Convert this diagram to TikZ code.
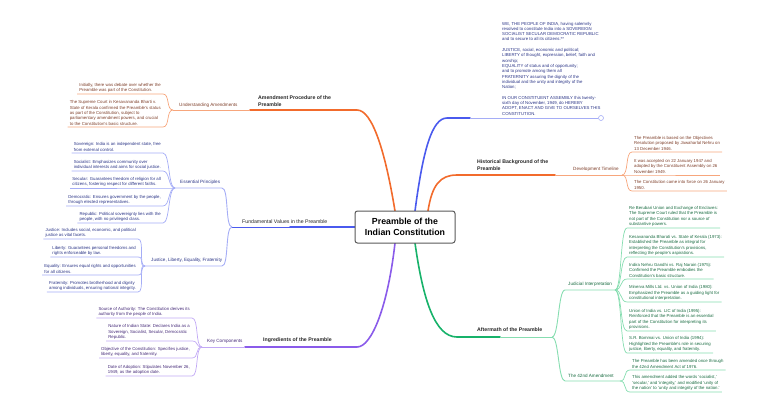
\documentclass[tikz,border=0pt]{standalone}
\usepackage{fontspec}
\setmainfont{Liberation Sans}
\usetikzlibrary{calc}

\definecolor{orA}{HTML}{F26B2C}
\definecolor{orL}{HTML}{F7A67C}
\definecolor{orT}{HTML}{7E3F2A}
\definecolor{blA}{HTML}{4A5AEE}
\definecolor{blL}{HTML}{A5ADF6}
\definecolor{blT}{HTML}{2A3486}
\definecolor{puA}{HTML}{8A5BEA}
\definecolor{puL}{HTML}{C2A9F5}
\definecolor{puT}{HTML}{452A78}
\definecolor{grA}{HTML}{17B26A}
\definecolor{grL}{HTML}{86DDB0}
\definecolor{grT}{HTML}{186B40}

\begin{document}
\begin{tikzpicture}[x=1pt, y=-1pt,
  main/.style={line width=1.6pt, line cap=round},
  sub/.style={line width=0.9pt},
  twig/.style={line width=0.7pt},
  leafR/.style={anchor=south west, align=left, inner xsep=2pt, inner ysep=1.6pt,
    font=\fontsize{4.3}{5.3}\selectfont},
  leafL/.style={leafR, anchor=south east},
  brlab/.style={anchor=south west, align=left, inner sep=1pt,
    font=\fontsize{5.2}{7}\selectfont\bfseries, text=black!85},
  sublab/.style={anchor=south west, inner sep=1pt, font=\fontsize{4.6}{5.5}\selectfont}]

  \useasboundingbox (0,0) rectangle (768,413);

  % root and start points of the branches
  \coordinate (rA) at (395,211);
  \coordinate (rB) at (415,211);
  \coordinate (rC) at (428,211);
  \coordinate (rD) at (355,227);
  \coordinate (rE) at (395,243);
  \coordinate (rF) at (415,243);

  % junctions
  \coordinate (amJ) at (173,110);
  \coordinate (dtJ) at (622,175);
  \coordinate (fvJ) at (232,227);
  \coordinate (epJ) at (175,188);
  \coordinate (jlJ) at (145,266);
  \coordinate (kcJ) at (202,347);
  \coordinate (afJ) at (552,337);
  \coordinate (jiJ) at (615,290);
  \coordinate (tfJ) at (620,381);

  % Amendment Procedure (orange, top left)
  \draw[main, orA] (rA) .. controls +(-10,-61) and +(15,0) .. (357,110) -- (250,110);
  \draw[sub, orL] (250,110) -- (amJ);
  \node[brlab] (amB) at (257,108) {Amendment Procedure of the\\Preamble};
  \node[sublab, text=orT] (amS) at (178,109) {Understanding Amendments};
  \node[leafL, text=orT] (am1) at (163,94) {Initially, there was debate over whether the\\Preamble was part of the Constitution.};
  \node[leafL, text=orT] (am2) at (163,127) {The Supreme Court in Kesavananda Bharti v.\\State of Kerala confirmed the Preamble's status\\as part of the Constitution, subject to\\parliamentary amendment powers, and crucial\\to the Constitution's basic structure.};
  \foreach \n in {am1,am2}
    \draw[twig, orL] (amJ) .. controls +(-7,0) and +(7,0) .. (\n.south east) -- (\n.south west);

  % preamble text (blue, top)
  \node[circle, draw=blL, line width=0.6pt, fill=white, inner sep=0pt, minimum size=5pt] (more) at (601,118) {};
  \draw[main, blA] (rB) .. controls +(8,-61) and +(-15,0) .. (447,118) -- (470,118);
  \draw[sub, blL] (470,118) -- (more.west);
  \node[leafR, text=blT, anchor=south west] (pre) at (500,117) {WE, THE PEOPLE OF INDIA, having solemnly\\resolved to constitute India into a SOVEREIGN\\SOCIALIST SECULAR DEMOCRATIC REPUBLIC\\and to secure to all its citizens:**\\[5.3pt]
    JUSTICE, social, economic and political;\\LIBERTY of thought, expression, belief, faith and\\worship;\\EQUALITY of status and of opportunity;\\and to promote among them all\\FRATERNITY assuring the dignity of the\\individual and the unity and integrity of the\\Nation;\\[5.3pt]
    IN OUR CONSTITUENT ASSEMBLY this twenty-\\sixth day of November, 1949, do HEREBY\\ADOPT, ENACT AND GIVE TO OURSELVES THIS\\CONSTITUTION.};

  % Historical Background (orange, right)
  \draw[main, orA] (rC) .. controls +(4,-26) and +(-17,0) .. (457,175) -- (555,175);
  \draw[sub, orL] (555,175) -- (dtJ);
  \node[brlab] (hiB) at (476,172) {Historical Background of the\\Preamble};
  \node[sublab, text=orT] (dtS) at (572,173) {Development Timeline};
  \node[leafR, text=orT] (dt1) at (632,152) {The Preamble is based on the Objectives\\Resolution proposed by Jawaharlal Nehru on\\13 December 1946.};
  \node[leafR, text=orT] (dt2) at (632,175) {It was accepted on 22 January 1947 and\\adopted by the Constituent Assembly on 26\\November 1949.};
  \node[leafR, text=orT] (dt3) at (632,191) {The Constitution came into force on 26 January\\1950.};
  \foreach \n in {dt1,dt2,dt3}
    \draw[twig, orL] (dtJ) .. controls +(7,0) and +(-7,0) .. (\n.south west) -- (\n.south east);

  % Fundamental Values (blue, left)
  \draw[main, blA] (rD) -- (290,227);
  \draw[sub, blA] (290,227) -- (fvJ);
  \node[brlab, font=\fontsize{5.2}{7}\selectfont] (fvB) at (241,225) {Fundamental Values in the Preamble};
  \draw[sub, blL] (fvJ) .. controls +(-7,0) and +(7,0) .. (222,188) -- (epJ);
  \draw[sub, blL] (fvJ) .. controls +(-7,0) and +(7,0) .. (222,266) -- (jlJ);
  \node[sublab, text=blT] (epS) at (179,186) {Essential Principles};
  \node[sublab, text=blT] (jlS) at (150,264) {Justice, Liberty, Equality, Fraternity};
  \node[leafL, text=blT] (ep1) at (163,153) {Sovereign: India is an independent state, free\\from external control.};
  \node[leafL, text=blT] (ep2) at (163,171) {Socialist: Emphasizes community over\\individual interests and aims for social justice.};
  \node[leafL, text=blT] (ep3) at (163,188) {Secular: Guarantees freedom of religion for all\\citizens, fostering respect for different faiths.};
  \node[leafL, text=blT] (ep4) at (163,206) {Democratic: Ensures government by the people,\\through elected representatives.};
  \node[leafL, text=blT] (ep5) at (163,223) {Republic: Political sovereignty lies with the\\people, with no privileged class.};
  \foreach \n in {ep1,ep2,ep3,ep4,ep5}
    \draw[twig, blL] (epJ) .. controls +(-7,0) and +(7,0) .. (\n.south east) -- (\n.south west);
  \node[leafL, text=blT] (jl1) at (138,239) {Justice: Includes social, economic, and political\\justice as vital facets.};
  \node[leafL, text=blT] (jl2) at (138,257) {Liberty: Guarantees personal freedoms and\\rights enforceable by law.};
  \node[leafL, text=blT] (jl3) at (138,275) {Equality: Ensures equal rights and opportunities\\for all citizens.};
  \node[leafL, text=blT] (jl4) at (138,292) {Fraternity: Promotes brotherhood and dignity\\among individuals, ensuring national integrity.};
  \foreach \n in {jl1,jl2,jl3,jl4}
    \draw[twig, blL] (jlJ) .. controls +(-7,0) and +(7,0) .. (\n.south east) -- (\n.south west);

  % Ingredients (purple, bottom left)
  \draw[main, puA] (rE) .. controls +(-7,62) and +(15,0) .. (357,347) -- (245,347);
  \draw[sub, puL] (245,347) -- (kcJ);
  \node[brlab] (inB) at (262,344) {Ingredients of the Preamble};
  \node[sublab, text=puT] (kcS) at (206,345) {Key Components};
  \node[leafL, text=puT] (kc1) at (192,318) {Source of Authority: The Constitution derives its\\authority from the people of India.};
  \node[leafL, text=puT] (kc2) at (192,341) {Nature of Indian State: Declares India as a\\Sovereign, Socialist, Secular, Democratic\\Republic.};
  \node[leafL, text=puT] (kc3) at (192,358) {Objective of the Constitution: Specifies justice,\\liberty, equality, and fraternity.};
  \node[leafL, text=puT] (kc4) at (192,376) {Date of Adoption: Stipulates November 26,\\1949, as the adoption date.};
  \foreach \n in {kc1,kc2,kc3,kc4}
    \draw[twig, puL] (kcJ) .. controls +(-7,0) and +(7,0) .. (\n.south east) -- (\n.south west);

  % Aftermath (green, bottom right)
  \draw[main, grA] (rF) .. controls +(8,57) and +(-22,0) .. (457,337) -- (500,337);
  \draw[sub, grL] (500,337) -- (afJ);
  \node[brlab] (afB) at (476,333) {Aftermath of the Preamble};
  \draw[sub, grL] (afJ) .. controls +(7,0) and +(-7,0) .. (565,290) -- (jiJ);
  \draw[sub, grL] (afJ) .. controls +(7,0) and +(-7,0) .. (565,381) -- (tfJ);
  \node[sublab, text=grT] (jiS) at (567,288) {Judicial Interpretation};
  \node[sublab, text=grT] (tfS) at (567,379) {The 42nd Amendment};
  \node[leafR, text=grT] (ji1) at (627,228) {Re Berubari Union and Exchange of Enclaves:\\The Supreme Court ruled that the Preamble is\\not part of the Constitution nor a source of\\substantive powers.};
  \node[leafR, text=grT] (ji2) at (627,257) {Kesavananda Bharati vs. State of Kerala (1973):\\Established the Preamble as integral for\\interpreting the Constitution's provisions,\\reflecting the people's aspirations.};
  \node[leafR, text=grT] (ji3) at (627,279) {Indira Nehru Gandhi vs. Raj Narain (1975):\\Confirmed the Preamble embodies the\\Constitution's basic structure.};
  \node[leafR, text=grT] (ji4) at (627,302) {Minerva Mills Ltd. vs. Union of India (1980):\\Emphasized the Preamble as a guiding light for\\constitutional interpretation.};
  \node[leafR, text=grT] (ji5) at (627,331) {Union of India vs. LIC of India (1995):\\Reinforced that the Preamble is an essential\\part of the Constitution for interpreting its\\provisions.};
  \node[leafR, text=grT] (ji6) at (627,353) {S.R. Bommai vs. Union of India (1994):\\Highlighted the Preamble's role in securing\\justice, liberty, equality, and fraternity.};
  \foreach \n in {ji1,ji2,ji3,ji4,ji5,ji6}
    \draw[twig, grL] (jiJ) .. controls +(7,0) and +(-7,0) .. (\n.south west) -- (\n.south east);
  \node[leafR, text=grT] (tf1) at (630,370) {The Preamble has been amended once through\\the 42nd Amendment Act of 1976.};
  \node[leafR, text=grT] (tf2) at (630,392) {This amendment added the words `socialist,'\\`secular,' and `integrity,' and modified `unity of\\the nation' to `unity and integrity of the nation.'};
  \foreach \n in {tf1,tf2}
    \draw[twig, grL] (tfJ) .. controls +(7,0) and +(-7,0) .. (\n.south west) -- (\n.south east);

  % root box on top
  \node[draw=black!65, line width=1pt, rounded corners=2.5pt, fill=white,
    minimum width=100pt, minimum height=32pt, align=center,
    font=\fontsize{8.8}{11.5}\selectfont\bfseries] (root) at (405,227) {Preamble of the\\Indian Constitution};
\end{tikzpicture}
\end{document}
